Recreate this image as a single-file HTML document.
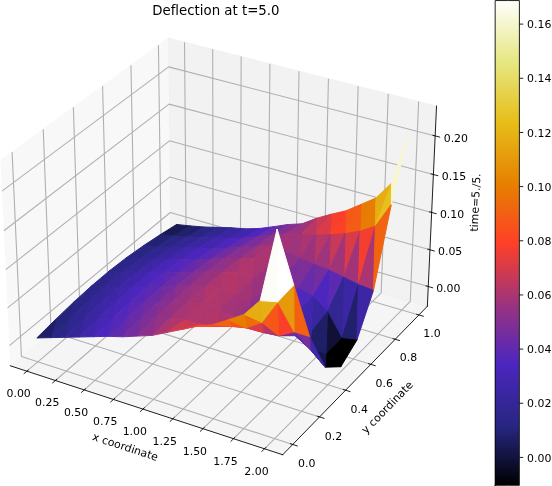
<!DOCTYPE html>
<html><head><meta charset="utf-8"><title>Deflection at t=5.0</title><style>html,body{margin:0;padding:0;background:#fff;}text{font-variant-ligatures:none;font-feature-settings:"liga" 0;}#wrap{position:relative;width:552px;height:486px;overflow:hidden;background:#fff;}</style></head><body><div id="wrap"><svg width="944.400" height="629.600" viewBox="0 0 864 576" style="position:absolute;left:-245.22px;top:-75.22px">
  <defs>
  <style type="text/css">*{stroke-linejoin: round; stroke-linecap: butt}</style>
 </defs>
 <g id="figure_1">
  <g id="patch_1">
   <path d="M 0 576 L 864 576 L 864 0 L 0 0 z
" style="fill: #ffffff"/>
  </g>
  <g id="patch_2">
   <path d="M 200.16 512.64 L 643.68 512.64 L 643.68 69.12 L 200.16 69.12 z
" style="fill: #ffffff"/>
  </g>
  <g id="pane3d_1">
   <g id="patch_3">
    <path d="M 233.64 403.28 L 380.11 280.51 L 378.07 103.45 L 224.60 215.45 " style="fill: #f2f2f2; opacity: 0.5; stroke: #f2f2f2; stroke-linejoin: miter"/>
   </g>
  </g>
  <g id="pane3d_2">
   <g id="patch_4">
    <path d="M 380.11 280.51 L 615.13 348.82 L 623.52 165.67 L 378.07 103.45 " style="fill: #e6e6e6; opacity: 0.5; stroke: #e6e6e6; stroke-linejoin: miter"/>
   </g>
  </g>
  <g id="pane3d_3">
   <g id="patch_5">
    <path d="M 233.64 403.28 L 482.78 484.65 L 615.13 348.82 L 380.11 280.51 " style="fill: #ececec; opacity: 0.5; stroke: #ececec; stroke-linejoin: miter"/>
   </g>
  </g>
  <g id="grid3d_1">
   <g id="Line3DCollection_1">
    <path d="M 248.73 408.21 L 394.40 284.66 L 392.97 107.23 " style="fill: none; stroke: #b0b0b0"/>
    <path d="M 274.83 416.73 L 419.11 291.84 L 418.73 113.76 " style="fill: none; stroke: #b0b0b0"/>
    <path d="M 301.23 425.35 L 444.07 299.10 L 444.77 120.36 " style="fill: none; stroke: #b0b0b0"/>
    <path d="M 327.92 434.07 L 469.29 306.43 L 471.09 127.03 " style="fill: none; stroke: #b0b0b0"/>
    <path d="M 354.93 442.89 L 494.78 313.84 L 497.70 133.77 " style="fill: none; stroke: #b0b0b0"/>
    <path d="M 382.24 451.81 L 520.54 321.33 L 524.61 140.59 " style="fill: none; stroke: #b0b0b0"/>
    <path d="M 409.88 460.84 L 546.58 328.89 L 551.82 147.49 " style="fill: none; stroke: #b0b0b0"/>
    <path d="M 437.84 469.97 L 572.89 336.54 L 579.33 154.46 " style="fill: none; stroke: #b0b0b0"/>
    <path d="M 466.13 479.21 L 599.49 344.27 L 607.15 161.52 " style="fill: none; stroke: #b0b0b0"/>
   </g>
  </g>
  <g id="grid3d_2">
   <g id="Line3DCollection_2">
    <path d="M 235.21 207.70 L 243.74 394.82 L 491.94 475.25 " style="fill: none; stroke: #b0b0b0"/>
    <path d="M 263.69 186.92 L 270.84 372.09 L 516.51 450.03 " style="fill: none; stroke: #b0b0b0"/>
    <path d="M 291.28 166.79 L 297.14 350.05 L 540.30 425.61 " style="fill: none; stroke: #b0b0b0"/>
    <path d="M 318.01 147.28 L 322.66 328.66 L 563.36 401.95 " style="fill: none; stroke: #b0b0b0"/>
    <path d="M 343.94 128.36 L 347.44 307.89 L 585.71 379.01 " style="fill: none; stroke: #b0b0b0"/>
    <path d="M 369.09 110.01 L 371.50 287.72 L 607.39 356.77 " style="fill: none; stroke: #b0b0b0"/>
   </g>
  </g>
  <g id="grid3d_3">
   <g id="Line3DCollection_3">
    <path d="M 615.96 330.74 L 379.91 262.99 L 232.75 384.76 " style="fill: none; stroke: #b0b0b0"/>
    <path d="M 617.50 297.14 L 379.53 230.47 L 231.09 350.34 " style="fill: none; stroke: #b0b0b0"/>
    <path d="M 619.06 262.98 L 379.15 197.44 L 229.41 315.33 " style="fill: none; stroke: #b0b0b0"/>
    <path d="M 620.65 228.26 L 378.77 163.88 L 227.69 279.72 " style="fill: none; stroke: #b0b0b0"/>
    <path d="M 622.27 192.96 L 378.38 129.79 L 225.95 243.48 " style="fill: none; stroke: #b0b0b0"/>
   </g>
  </g>
  <g id="axis3d_1">
   <g id="line2d_1">
    <path d="M 233.64 403.28 L 482.78 484.65 " style="fill: none; stroke: #000000; stroke-width: 0.8; stroke-linecap: square"/>
   </g>
   <g id="xtick_1">
    <g id="line2d_2">
     <path d="M 250.00 407.13 L 246.19 410.36 " style="fill: none; stroke: #000000; stroke-width: 0.8; stroke-linecap: square"/>
    </g>
    <g id="text_1">
     <text style="font-size: 10px; font-family: 'DejaVu Sans', sans-serif; text-anchor: middle" x="241.21" y="431.49" transform="rotate(-0 241.21 431.49)">0.00</text>
    </g>
   </g>
   <g id="xtick_2">
    <g id="line2d_3">
     <path d="M 276.09 415.64 L 272.31 418.91 " style="fill: none; stroke: #000000; stroke-width: 0.8; stroke-linecap: square"/>
    </g>
    <g id="text_2">
     <text style="font-size: 10px; font-family: 'DejaVu Sans', sans-serif; text-anchor: middle" x="267.33" y="440.12" transform="rotate(-0 267.33 440.12)">0.25</text>
    </g>
   </g>
   <g id="xtick_3">
    <g id="line2d_4">
     <path d="M 302.47 424.25 L 298.73 427.56 " style="fill: none; stroke: #000000; stroke-width: 0.8; stroke-linecap: square"/>
    </g>
    <g id="text_3">
     <text style="font-size: 10px; font-family: 'DejaVu Sans', sans-serif; text-anchor: middle" x="293.74" y="448.85" transform="rotate(-0 293.74 448.85)">0.50</text>
    </g>
   </g>
   <g id="xtick_4">
    <g id="line2d_5">
     <path d="M 329.16 432.96 L 325.45 436.30 " style="fill: none; stroke: #000000; stroke-width: 0.8; stroke-linecap: square"/>
    </g>
    <g id="text_4">
     <text style="font-size: 10px; font-family: 'DejaVu Sans', sans-serif; text-anchor: middle" x="320.46" y="457.68" transform="rotate(-0 320.46 457.68)">0.75</text>
    </g>
   </g>
   <g id="xtick_5">
    <g id="line2d_6">
     <path d="M 356.15 441.76 L 352.48 445.15 " style="fill: none; stroke: #000000; stroke-width: 0.8; stroke-linecap: square"/>
    </g>
    <g id="text_5">
     <text style="font-size: 10px; font-family: 'DejaVu Sans', sans-serif; text-anchor: middle" x="347.48" y="466.62" transform="rotate(-0 347.48 466.62)">1.00</text>
    </g>
   </g>
   <g id="xtick_6">
    <g id="line2d_7">
     <path d="M 383.45 450.67 L 379.83 454.09 " style="fill: none; stroke: #000000; stroke-width: 0.8; stroke-linecap: square"/>
    </g>
    <g id="text_6">
     <text style="font-size: 10px; font-family: 'DejaVu Sans', sans-serif; text-anchor: middle" x="374.82" y="475.65" transform="rotate(-0 374.82 475.65)">1.25</text>
    </g>
   </g>
   <g id="xtick_7">
    <g id="line2d_8">
     <path d="M 411.07 459.68 L 407.49 463.15 " style="fill: none; stroke: #000000; stroke-width: 0.8; stroke-linecap: square"/>
    </g>
    <g id="text_7">
     <text style="font-size: 10px; font-family: 'DejaVu Sans', sans-serif; text-anchor: middle" x="402.47" y="484.79" transform="rotate(-0 402.47 484.79)">1.50</text>
    </g>
   </g>
   <g id="xtick_8">
    <g id="line2d_9">
     <path d="M 439.02 468.80 L 435.47 472.30 " style="fill: none; stroke: #000000; stroke-width: 0.8; stroke-linecap: square"/>
    </g>
    <g id="text_8">
     <text style="font-size: 10px; font-family: 'DejaVu Sans', sans-serif; text-anchor: middle" x="430.45" y="494.04" transform="rotate(-0 430.45 494.04)">1.75</text>
    </g>
   </g>
   <g id="xtick_9">
    <g id="line2d_10">
     <path d="M 467.29 478.03 L 463.79 481.57 " style="fill: none; stroke: #000000; stroke-width: 0.8; stroke-linecap: square"/>
    </g>
    <g id="text_9">
     <text style="font-size: 10px; font-family: 'DejaVu Sans', sans-serif; text-anchor: middle" x="458.76" y="503.40" transform="rotate(-0 458.76 503.40)">2.00</text>
    </g>
   </g>
   <g id="text_10">
    <text style="font-size: 10px; font-family: 'DejaVu Sans', sans-serif; text-anchor: middle" x="337.83" y="480.67" transform="rotate(-341.91 337.83 480.67)">x coordinate</text>
   </g>
  </g>
  <g id="axis3d_2">
   <g id="line2d_11">
    <path d="M 615.13 348.82 L 482.78 484.65 " style="fill: none; stroke: #000000; stroke-width: 0.8; stroke-linecap: square"/>
   </g>
   <g id="xtick_10">
    <g id="line2d_12">
     <path d="M 489.85 474.57 L 496.13 476.60 " style="fill: none; stroke: #000000; stroke-width: 0.8; stroke-linecap: square"/>
    </g>
    <g id="text_11">
     <text style="font-size: 10px; font-family: 'DejaVu Sans', sans-serif; text-anchor: middle" x="504.82" y="496.27" transform="rotate(-0 504.82 496.27)">0.0</text>
    </g>
   </g>
   <g id="xtick_11">
    <g id="line2d_13">
     <path d="M 514.44 449.38 L 520.65 451.35 " style="fill: none; stroke: #000000; stroke-width: 0.8; stroke-linecap: square"/>
    </g>
    <g id="text_12">
     <text style="font-size: 10px; font-family: 'DejaVu Sans', sans-serif; text-anchor: middle" x="529.19" y="470.83" transform="rotate(-0 529.19 470.83)">0.2</text>
    </g>
   </g>
   <g id="xtick_12">
    <g id="line2d_14">
     <path d="M 538.26 424.98 L 544.40 426.89 " style="fill: none; stroke: #000000; stroke-width: 0.8; stroke-linecap: square"/>
    </g>
    <g id="text_13">
     <text style="font-size: 10px; font-family: 'DejaVu Sans', sans-serif; text-anchor: middle" x="552.79" y="446.19" transform="rotate(-0 552.79 446.19)">0.4</text>
    </g>
   </g>
   <g id="xtick_13">
    <g id="line2d_15">
     <path d="M 561.34 401.34 L 567.41 403.19 " style="fill: none; stroke: #000000; stroke-width: 0.8; stroke-linecap: square"/>
    </g>
    <g id="text_14">
     <text style="font-size: 10px; font-family: 'DejaVu Sans', sans-serif; text-anchor: middle" x="575.66" y="422.32" transform="rotate(-0 575.66 422.32)">0.6</text>
    </g>
   </g>
   <g id="xtick_14">
    <g id="line2d_16">
     <path d="M 583.71 378.42 L 589.72 380.21 " style="fill: none; stroke: #000000; stroke-width: 0.8; stroke-linecap: square"/>
    </g>
    <g id="text_15">
     <text style="font-size: 10px; font-family: 'DejaVu Sans', sans-serif; text-anchor: middle" x="597.83" y="399.18" transform="rotate(-0 597.83 399.18)">0.8</text>
    </g>
   </g>
   <g id="xtick_15">
    <g id="line2d_17">
     <path d="M 605.41 356.19 L 611.36 357.93 " style="fill: none; stroke: #000000; stroke-width: 0.8; stroke-linecap: square"/>
    </g>
    <g id="text_16">
     <text style="font-size: 10px; font-family: 'DejaVu Sans', sans-serif; text-anchor: middle" x="619.34" y="376.73" transform="rotate(-0 619.34 376.73)">1.0</text>
    </g>
   </g>
   <g id="text_17">
    <text style="font-size: 10px; font-family: 'DejaVu Sans', sans-serif; text-anchor: middle" x="580.85" y="443.61" transform="rotate(-45.74 580.85 443.61)">y coordinate</text>
   </g>
  </g>
  <g id="axis3d_3">
   <g id="line2d_18">
    <path d="M 615.13 348.82 L 623.52 165.67 " style="fill: none; stroke: #000000; stroke-width: 0.8; stroke-linecap: square"/>
   </g>
   <g id="xtick_16">
    <g id="line2d_19">
     <path d="M 613.98 330.17 L 619.93 331.88 " style="fill: none; stroke: #000000; stroke-width: 0.8; stroke-linecap: square"/>
    </g>
    <g id="text_18">
     <text style="font-size: 10px; font-family: 'DejaVu Sans', sans-serif; text-anchor: middle" x="634.31" y="335.75" transform="rotate(-0 634.31 335.75)">0.00</text>
    </g>
   </g>
   <g id="xtick_17">
    <g id="line2d_20">
     <path d="M 615.50 296.58 L 621.50 298.26 " style="fill: none; stroke: #000000; stroke-width: 0.8; stroke-linecap: square"/>
    </g>
    <g id="text_19">
     <text style="font-size: 10px; font-family: 'DejaVu Sans', sans-serif; text-anchor: middle" x="636.00" y="302.19" transform="rotate(-0 636.00 302.19)">0.05</text>
    </g>
   </g>
   <g id="xtick_18">
    <g id="line2d_21">
     <path d="M 617.05 262.43 L 623.10 264.09 " style="fill: none; stroke: #000000; stroke-width: 0.8; stroke-linecap: square"/>
    </g>
    <g id="text_20">
     <text style="font-size: 10px; font-family: 'DejaVu Sans', sans-serif; text-anchor: middle" x="637.71" y="268.08" transform="rotate(-0 637.71 268.08)">0.10</text>
    </g>
   </g>
   <g id="xtick_19">
    <g id="line2d_22">
     <path d="M 618.62 227.72 L 624.72 229.35 " style="fill: none; stroke: #000000; stroke-width: 0.8; stroke-linecap: square"/>
    </g>
    <g id="text_21">
     <text style="font-size: 10px; font-family: 'DejaVu Sans', sans-serif; text-anchor: middle" x="639.45" y="233.40" transform="rotate(-0 639.45 233.40)">0.15</text>
    </g>
   </g>
   <g id="xtick_20">
    <g id="line2d_23">
     <path d="M 620.22 192.43 L 626.38 194.02 " style="fill: none; stroke: #000000; stroke-width: 0.8; stroke-linecap: square"/>
    </g>
    <g id="text_22">
     <text style="font-size: 10px; font-family: 'DejaVu Sans', sans-serif; text-anchor: middle" x="641.22" y="198.14" transform="rotate(-0 641.22 198.14)">0.20</text>
    </g>
   </g>
   <g id="text_23">
    <text style="font-size: 10px; font-family: 'DejaVu Sans', sans-serif; text-anchor: middle" x="662.47" y="253.95" transform="rotate(-87.37 662.47 253.95)">time=5./5.</text>
   </g>
  </g>
  <g id="axes_1">
   <g id="Poly3DCollection_1">
    <path d="M 383.15 284.48 L 398.06 275.29 L 385.67 273.98 z
" clip-path="url(#p29999b01a1)" style="fill: #191954; stroke: #191954; stroke-width: 0.9"/>
    <path d="M 370.68 283.37 L 383.15 284.48 L 385.67 273.98 z
" clip-path="url(#p29999b01a1)" style="fill: #191954; stroke: #191954; stroke-width: 0.9"/>
    <path d="M 395.70 285.31 L 410.54 276.28 L 398.06 275.29 z
" clip-path="url(#p29999b01a1)" style="fill: #1f1f68; stroke: #1f1f68; stroke-width: 0.9"/>
    <path d="M 383.15 284.48 L 395.70 285.31 L 398.06 275.29 z
" clip-path="url(#p29999b01a1)" style="fill: #20206c; stroke: #20206c; stroke-width: 0.9"/>
    <path d="M 408.33 285.56 L 423.10 276.63 L 410.54 276.28 z
" clip-path="url(#p29999b01a1)" style="fill: #282682; stroke: #282682; stroke-width: 0.9"/>
    <path d="M 395.70 285.31 L 408.33 285.56 L 410.54 276.28 z
" clip-path="url(#p29999b01a1)" style="fill: #282682; stroke: #282682; stroke-width: 0.9"/>
    <path d="M 367.94 294.27 L 383.15 284.48 L 370.68 283.37 z
" clip-path="url(#p29999b01a1)" style="fill: #222270; stroke: #222270; stroke-width: 0.9"/>
    <path d="M 421.06 285.82 L 435.74 276.97 L 423.10 276.63 z
" clip-path="url(#p29999b01a1)" style="fill: #302690; stroke: #302690; stroke-width: 0.9"/>
    <path d="M 355.40 293.37 L 367.94 294.27 L 370.68 283.37 z
" clip-path="url(#p29999b01a1)" style="fill: #222270; stroke: #222270; stroke-width: 0.9"/>
    <path d="M 408.33 285.56 L 421.06 285.82 L 423.10 276.63 z
" clip-path="url(#p29999b01a1)" style="fill: #312692; stroke: #312692; stroke-width: 0.9"/>
    <path d="M 380.57 294.93 L 395.70 285.31 L 383.15 284.48 z
" clip-path="url(#p29999b01a1)" style="fill: #292684; stroke: #292684; stroke-width: 0.9"/>
    <path d="M 433.86 286.66 L 448.47 277.98 L 435.74 276.97 z
" clip-path="url(#p29999b01a1)" style="fill: #38269e; stroke: #38269e; stroke-width: 0.9"/>
    <path d="M 367.94 294.27 L 380.57 294.93 L 383.15 284.48 z
" clip-path="url(#p29999b01a1)" style="fill: #292684; stroke: #292684; stroke-width: 0.9"/>
    <path d="M 421.06 285.82 L 433.86 286.66 L 435.74 276.97 z
" clip-path="url(#p29999b01a1)" style="fill: #3a26a0; stroke: #3a26a0; stroke-width: 0.9"/>
    <path d="M 393.27 295.10 L 408.33 285.56 L 395.70 285.31 z
" clip-path="url(#p29999b01a1)" style="fill: #312692; stroke: #312692; stroke-width: 0.9"/>
    <path d="M 446.76 286.33 L 461.29 277.67 L 448.47 277.98 z
" clip-path="url(#p29999b01a1)" style="fill: #4126ac; stroke: #4126ac; stroke-width: 0.9"/>
    <path d="M 380.57 294.93 L 393.27 295.10 L 395.70 285.31 z
" clip-path="url(#p29999b01a1)" style="fill: #312692; stroke: #312692; stroke-width: 0.9"/>
    <path d="M 433.86 286.66 L 446.76 286.33 L 448.47 277.98 z
" clip-path="url(#p29999b01a1)" style="fill: #4126ac; stroke: #4126ac; stroke-width: 0.9"/>
    <path d="M 352.45 305.05 L 367.94 294.27 L 355.40 293.37 z
" clip-path="url(#p29999b01a1)" style="fill: #282682; stroke: #282682; stroke-width: 0.9"/>
    <path d="M 406.07 295.27 L 421.06 285.82 L 408.33 285.56 z
" clip-path="url(#p29999b01a1)" style="fill: #3a26a0; stroke: #3a26a0; stroke-width: 0.9"/>
    <path d="M 459.77 284.84 L 474.22 276.03 L 461.29 277.67 z
" clip-path="url(#p29999b01a1)" style="fill: #5027bd; stroke: #5027bd; stroke-width: 0.9"/>
    <path d="M 339.84 304.35 L 352.45 305.05 L 355.40 293.37 z
" clip-path="url(#p29999b01a1)" style="fill: #282682; stroke: #282682; stroke-width: 0.9"/>
    <path d="M 393.27 295.10 L 406.07 295.27 L 408.33 285.56 z
" clip-path="url(#p29999b01a1)" style="fill: #3a26a0; stroke: #3a26a0; stroke-width: 0.9"/>
    <path d="M 446.76 286.33 L 459.77 284.84 L 461.29 277.67 z
" clip-path="url(#p29999b01a1)" style="fill: #4d26bf; stroke: #4d26bf; stroke-width: 0.9"/>
    <path d="M 365.14 305.55 L 380.57 294.93 L 367.94 294.27 z
" clip-path="url(#p29999b01a1)" style="fill: #302690; stroke: #302690; stroke-width: 0.9"/>
    <path d="M 418.96 295.94 L 433.86 286.66 L 421.06 285.82 z
" clip-path="url(#p29999b01a1)" style="fill: #4226ae; stroke: #4226ae; stroke-width: 0.9"/>
    <path d="M 472.87 283.94 L 487.26 274.05 L 474.22 276.03 z
" clip-path="url(#p29999b01a1)" style="fill: #6a2ba7; stroke: #6a2ba7; stroke-width: 0.9"/>
    <path d="M 352.45 305.05 L 365.14 305.55 L 367.94 294.27 z
" clip-path="url(#p29999b01a1)" style="fill: #2f268e; stroke: #2f268e; stroke-width: 0.9"/>
    <path d="M 406.07 295.27 L 418.96 295.94 L 421.06 285.82 z
" clip-path="url(#p29999b01a1)" style="fill: #4226ae; stroke: #4226ae; stroke-width: 0.9"/>
    <path d="M 377.91 305.63 L 393.27 295.10 L 380.57 294.93 z
" clip-path="url(#p29999b01a1)" style="fill: #38269e; stroke: #38269e; stroke-width: 0.9"/>
    <path d="M 459.77 284.84 L 472.87 283.94 L 474.22 276.03 z
" clip-path="url(#p29999b01a1)" style="fill: #682ba9; stroke: #682ba9; stroke-width: 0.9"/>
    <path d="M 431.93 295.61 L 446.76 286.33 L 433.86 286.66 z
" clip-path="url(#p29999b01a1)" style="fill: #4c26be; stroke: #4c26be; stroke-width: 0.9"/>
    <path d="M 486.08 282.25 L 500.38 273.39 L 487.26 274.05 z
" clip-path="url(#p29999b01a1)" style="fill: #843091; stroke: #843091; stroke-width: 0.9"/>
    <path d="M 365.14 305.55 L 377.91 305.63 L 380.57 294.93 z
" clip-path="url(#p29999b01a1)" style="fill: #37269c; stroke: #37269c; stroke-width: 0.9"/>
    <path d="M 418.96 295.94 L 431.93 295.61 L 433.86 286.66 z
" clip-path="url(#p29999b01a1)" style="fill: #4c26be; stroke: #4c26be; stroke-width: 0.9"/>
    <path d="M 336.66 317.09 L 352.45 305.05 L 339.84 304.35 z
" clip-path="url(#p29999b01a1)" style="fill: #2c268a; stroke: #2c268a; stroke-width: 0.9"/>
    <path d="M 390.78 305.71 L 406.07 295.27 L 393.27 295.10 z
" clip-path="url(#p29999b01a1)" style="fill: #4226ae; stroke: #4226ae; stroke-width: 0.9"/>
    <path d="M 472.87 283.94 L 486.08 282.25 L 487.26 274.05 z
" clip-path="url(#p29999b01a1)" style="fill: #822f93; stroke: #822f93; stroke-width: 0.9"/>
    <path d="M 445.01 294.26 L 459.77 284.84 L 446.76 286.33 z
" clip-path="url(#p29999b01a1)" style="fill: #632aad; stroke: #632aad; stroke-width: 0.9"/>
    <path d="M 323.99 316.59 L 336.66 317.09 L 339.84 304.35 z
" clip-path="url(#p29999b01a1)" style="fill: #2b2688; stroke: #2b2688; stroke-width: 0.9"/>
    <path d="M 377.91 305.63 L 390.78 305.71 L 393.27 295.10 z
" clip-path="url(#p29999b01a1)" style="fill: #4126ac; stroke: #4126ac; stroke-width: 0.9"/>
    <path d="M 499.36 283.30 L 513.69 268.34 L 500.38 273.39 z
" clip-path="url(#p29999b01a1)" style="fill: #a13479; stroke: #a13479; stroke-width: 0.9"/>
    <path d="M 349.42 317.42 L 365.14 305.55 L 352.45 305.05 z
" clip-path="url(#p29999b01a1)" style="fill: #352698; stroke: #352698; stroke-width: 0.9"/>
    <path d="M 431.93 295.61 L 445.01 294.26 L 446.76 286.33 z
" clip-path="url(#p29999b01a1)" style="fill: #602aaf; stroke: #602aaf; stroke-width: 0.9"/>
    <path d="M 403.74 306.21 L 418.96 295.94 L 406.07 295.27 z
" clip-path="url(#p29999b01a1)" style="fill: #4a26bc; stroke: #4a26bc; stroke-width: 0.9"/>
    <path d="M 486.08 282.25 L 499.36 283.30 L 500.38 273.39 z
" clip-path="url(#p29999b01a1)" style="fill: #973381; stroke: #973381; stroke-width: 0.9"/>
    <path d="M 458.19 294.32 L 472.87 283.94 L 459.77 284.84 z
" clip-path="url(#p29999b01a1)" style="fill: #7b2e99; stroke: #7b2e99; stroke-width: 0.9"/>
    <path d="M 336.66 317.09 L 349.42 317.42 L 352.45 305.05 z
" clip-path="url(#p29999b01a1)" style="fill: #342696; stroke: #342696; stroke-width: 0.9"/>
    <path d="M 390.78 305.71 L 403.74 306.21 L 406.07 295.27 z
" clip-path="url(#p29999b01a1)" style="fill: #4a26bc; stroke: #4a26bc; stroke-width: 0.9"/>
    <path d="M 362.26 317.42 L 377.91 305.63 L 365.14 305.55 z
" clip-path="url(#p29999b01a1)" style="fill: #3e26a8; stroke: #3e26a8; stroke-width: 0.9"/>
    <path d="M 512.73 283.68 L 527.09 264.60 L 513.69 268.34 z
" clip-path="url(#p29999b01a1)" style="fill: #cd3a52; stroke: #cd3a52; stroke-width: 0.9"/>
    <path d="M 445.01 294.26 L 458.19 294.32 L 459.77 284.84 z
" clip-path="url(#p29999b01a1)" style="fill: #782e9b; stroke: #782e9b; stroke-width: 0.9"/>
    <path d="M 416.80 305.87 L 431.93 295.61 L 418.96 295.94 z
" clip-path="url(#p29999b01a1)" style="fill: #5c29b3; stroke: #5c29b3; stroke-width: 0.9"/>
    <path d="M 499.36 283.30 L 512.73 283.68 L 513.69 268.34 z
" clip-path="url(#p29999b01a1)" style="fill: #b73765; stroke: #b73765; stroke-width: 0.9"/>
    <path d="M 349.42 317.42 L 362.26 317.42 L 365.14 305.55 z
" clip-path="url(#p29999b01a1)" style="fill: #3c26a4; stroke: #3c26a4; stroke-width: 0.9"/>
    <path d="M 471.47 292.66 L 486.08 282.25 L 472.87 283.94 z
" clip-path="url(#p29999b01a1)" style="fill: #953283; stroke: #953283; stroke-width: 0.9"/>
    <path d="M 320.60 330.48 L 336.66 317.09 L 323.99 316.59 z
" clip-path="url(#p29999b01a1)" style="fill: #2f268e; stroke: #2f268e; stroke-width: 0.9"/>
    <path d="M 403.74 306.21 L 416.80 305.87 L 418.96 295.94 z
" clip-path="url(#p29999b01a1)" style="fill: #5928b5; stroke: #5928b5; stroke-width: 0.9"/>
    <path d="M 375.19 317.41 L 390.78 305.71 L 377.91 305.63 z
" clip-path="url(#p29999b01a1)" style="fill: #4826b8; stroke: #4826b8; stroke-width: 0.9"/>
    <path d="M 458.19 294.32 L 471.47 292.66 L 472.87 283.94 z
" clip-path="url(#p29999b01a1)" style="fill: #903287; stroke: #903287; stroke-width: 0.9"/>
    <path d="M 307.87 330.19 L 320.60 330.48 L 323.99 316.59 z
" clip-path="url(#p29999b01a1)" style="fill: #2b2688; stroke: #2b2688; stroke-width: 0.9"/>
    <path d="M 526.22 283.39 L 540.60 261.52 L 527.09 264.60 z
" clip-path="url(#p29999b01a1)" style="fill: #f73f2d; stroke: #f73f2d; stroke-width: 0.9"/>
    <path d="M 429.95 304.68 L 445.01 294.26 L 431.93 295.61 z
" clip-path="url(#p29999b01a1)" style="fill: #732d9f; stroke: #732d9f; stroke-width: 0.9"/>
    <path d="M 484.77 298.53 L 499.36 283.30 L 486.08 282.25 z
" clip-path="url(#p29999b01a1)" style="fill: #a13479; stroke: #a13479; stroke-width: 0.9"/>
    <path d="M 362.26 317.42 L 375.19 317.41 L 377.91 305.63 z
" clip-path="url(#p29999b01a1)" style="fill: #4626b4; stroke: #4626b4; stroke-width: 0.9"/>
    <path d="M 512.73 283.68 L 526.22 283.39 L 527.09 264.60 z
" clip-path="url(#p29999b01a1)" style="fill: #da3b46; stroke: #da3b46; stroke-width: 0.9"/>
    <path d="M 333.41 330.66 L 349.42 317.42 L 336.66 317.09 z
" clip-path="url(#p29999b01a1)" style="fill: #37269c; stroke: #37269c; stroke-width: 0.9"/>
    <path d="M 416.80 305.87 L 429.95 304.68 L 431.93 295.61 z
" clip-path="url(#p29999b01a1)" style="fill: #712ca1; stroke: #712ca1; stroke-width: 0.9"/>
    <path d="M 388.23 317.75 L 403.74 306.21 L 390.78 305.71 z
" clip-path="url(#p29999b01a1)" style="fill: #5728b7; stroke: #5728b7; stroke-width: 0.9"/>
    <path d="M 471.47 292.66 L 484.77 298.53 L 486.08 282.25 z
" clip-path="url(#p29999b01a1)" style="fill: #a13479; stroke: #a13479; stroke-width: 0.9"/>
    <path d="M 320.60 330.48 L 333.41 330.66 L 336.66 317.09 z
" clip-path="url(#p29999b01a1)" style="fill: #352698; stroke: #352698; stroke-width: 0.9"/>
    <path d="M 443.20 305.47 L 458.19 294.32 L 445.01 294.26 z
" clip-path="url(#p29999b01a1)" style="fill: #89308d; stroke: #89308d; stroke-width: 0.9"/>
    <path d="M 498.11 305.12 L 512.73 283.68 L 499.36 283.30 z
" clip-path="url(#p29999b01a1)" style="fill: #aa3570; stroke: #aa3570; stroke-width: 0.9"/>
    <path d="M 539.83 282.40 L 554.30 255.66 L 540.60 261.52 z
" clip-path="url(#p29999b01a1)" style="fill: #f55917; stroke: #f55917; stroke-width: 0.9"/>
    <path d="M 375.19 317.41 L 388.23 317.75 L 390.78 305.71 z
" clip-path="url(#p29999b01a1)" style="fill: #5227bb; stroke: #5227bb; stroke-width: 0.9"/>
    <path d="M 526.22 283.39 L 539.83 282.40 L 540.60 261.52 z
" clip-path="url(#p29999b01a1)" style="fill: #fd4028; stroke: #fd4028; stroke-width: 0.9"/>
    <path d="M 346.31 330.58 L 362.26 317.42 L 349.42 317.42 z
" clip-path="url(#p29999b01a1)" style="fill: #4126ac; stroke: #4126ac; stroke-width: 0.9"/>
    <path d="M 484.77 298.53 L 498.11 305.12 L 499.36 283.30 z
" clip-path="url(#p29999b01a1)" style="fill: #9d347c; stroke: #9d347c; stroke-width: 0.9"/>
    <path d="M 429.95 304.68 L 443.20 305.47 L 445.01 294.26 z
" clip-path="url(#p29999b01a1)" style="fill: #87308f; stroke: #87308f; stroke-width: 0.9"/>
    <path d="M 401.36 317.41 L 416.80 305.87 L 403.74 306.21 z
" clip-path="url(#p29999b01a1)" style="fill: #6a2ba7; stroke: #6a2ba7; stroke-width: 0.9"/>
    <path d="M 511.53 310.37 L 526.22 283.39 L 512.73 283.68 z
" clip-path="url(#p29999b01a1)" style="fill: #b73765; stroke: #b73765; stroke-width: 0.9"/>
    <path d="M 333.41 330.66 L 346.31 330.58 L 349.42 317.42 z
" clip-path="url(#p29999b01a1)" style="fill: #3e26a8; stroke: #3e26a8; stroke-width: 0.9"/>
    <path d="M 304.26 345.19 L 320.60 330.48 L 307.87 330.19 z
" clip-path="url(#p29999b01a1)" style="fill: #2e268c; stroke: #2e268c; stroke-width: 0.9"/>
    <path d="M 456.56 304.65 L 471.47 292.66 L 458.19 294.32 z
" clip-path="url(#p29999b01a1)" style="fill: #a43476; stroke: #a43476; stroke-width: 0.9"/>
    <path d="M 498.11 305.12 L 511.53 310.37 L 512.73 283.68 z
" clip-path="url(#p29999b01a1)" style="fill: #9a337e; stroke: #9a337e; stroke-width: 0.9"/>
    <path d="M 388.23 317.75 L 401.36 317.41 L 403.74 306.21 z
" clip-path="url(#p29999b01a1)" style="fill: #652aab; stroke: #652aab; stroke-width: 0.9"/>
    <path d="M 359.31 330.49 L 375.19 317.41 L 362.26 317.42 z
" clip-path="url(#p29999b01a1)" style="fill: #4c26be; stroke: #4c26be; stroke-width: 0.9"/>
    <path d="M 553.58 280.03 L 568.15 249.74 L 554.30 255.66 z
" clip-path="url(#p29999b01a1)" style="fill: #e77b03; stroke: #e77b03; stroke-width: 0.9"/>
    <path d="M 291.48 345.09 L 304.26 345.19 L 307.87 330.19 z
" clip-path="url(#p29999b01a1)" style="fill: #2a2686; stroke: #2a2686; stroke-width: 0.9"/>
    <path d="M 539.83 282.40 L 553.58 280.03 L 554.30 255.66 z
" clip-path="url(#p29999b01a1)" style="fill: #f45b16; stroke: #f45b16; stroke-width: 0.9"/>
    <path d="M 443.20 305.47 L 456.56 304.65 L 458.19 294.32 z
" clip-path="url(#p29999b01a1)" style="fill: #9a337e; stroke: #9a337e; stroke-width: 0.9"/>
    <path d="M 414.58 316.38 L 429.95 304.68 L 416.80 305.87 z
" clip-path="url(#p29999b01a1)" style="fill: #822f93; stroke: #822f93; stroke-width: 0.9"/>
    <path d="M 469.93 311.98 L 484.77 298.53 L 471.47 292.66 z
" clip-path="url(#p29999b01a1)" style="fill: #a43476; stroke: #a43476; stroke-width: 0.9"/>
    <path d="M 525.02 315.64 L 539.83 282.40 L 526.22 283.39 z
" clip-path="url(#p29999b01a1)" style="fill: #c73957; stroke: #c73957; stroke-width: 0.9"/>
    <path d="M 346.31 330.58 L 359.31 330.49 L 362.26 317.42 z
" clip-path="url(#p29999b01a1)" style="fill: #4826b8; stroke: #4826b8; stroke-width: 0.9"/>
    <path d="M 317.12 345.20 L 333.41 330.66 L 320.60 330.48 z
" clip-path="url(#p29999b01a1)" style="fill: #37269c; stroke: #37269c; stroke-width: 0.9"/>
    <path d="M 511.53 310.37 L 525.02 315.64 L 526.22 283.39 z
" clip-path="url(#p29999b01a1)" style="fill: #9d347c; stroke: #9d347c; stroke-width: 0.9"/>
    <path d="M 401.36 317.41 L 414.58 316.38 L 416.80 305.87 z
" clip-path="url(#p29999b01a1)" style="fill: #7d2e97; stroke: #7d2e97; stroke-width: 0.9"/>
    <path d="M 483.33 321.41 L 498.11 305.12 L 484.77 298.53 z
" clip-path="url(#p29999b01a1)" style="fill: #8e3189; stroke: #8e3189; stroke-width: 0.9"/>
    <path d="M 372.42 330.67 L 388.23 317.75 L 375.19 317.41 z
" clip-path="url(#p29999b01a1)" style="fill: #5e29b1; stroke: #5e29b1; stroke-width: 0.9"/>
    <path d="M 304.26 345.19 L 317.12 345.20 L 320.60 330.48 z
" clip-path="url(#p29999b01a1)" style="fill: #342696; stroke: #342696; stroke-width: 0.9"/>
    <path d="M 456.56 304.65 L 469.93 311.98 L 471.47 292.66 z
" clip-path="url(#p29999b01a1)" style="fill: #aa3570; stroke: #aa3570; stroke-width: 0.9"/>
    <path d="M 427.91 317.58 L 443.20 305.47 L 429.95 304.68 z
" clip-path="url(#p29999b01a1)" style="fill: #933285; stroke: #933285; stroke-width: 0.9"/>
    <path d="M 538.54 322.31 L 553.58 280.03 L 539.83 282.40 z
" clip-path="url(#p29999b01a1)" style="fill: #da3b46; stroke: #da3b46; stroke-width: 0.9"/>
    <path d="M 525.02 315.64 L 538.54 322.31 L 539.83 282.40 z
" clip-path="url(#p29999b01a1)" style="fill: #a13479; stroke: #a13479; stroke-width: 0.9"/>
    <path d="M 553.58 280.03 L 567.53 275.56 L 568.15 249.74 z
" clip-path="url(#p29999b01a1)" style="fill: #e77d02; stroke: #e77d02; stroke-width: 0.9"/>
    <path d="M 496.75 332.22 L 511.53 310.37 L 498.11 305.12 z
" clip-path="url(#p29999b01a1)" style="fill: #7d2e97; stroke: #7d2e97; stroke-width: 0.9"/>
    <path d="M 359.31 330.49 L 372.42 330.67 L 375.19 317.41 z
" clip-path="url(#p29999b01a1)" style="fill: #5728b7; stroke: #5728b7; stroke-width: 0.9"/>
    <path d="M 567.53 275.56 L 582.42 236.11 L 568.15 249.74 z
" clip-path="url(#p29999b01a1)" style="fill: #e6ad12; stroke: #e6ad12; stroke-width: 0.9"/>
    <path d="M 330.08 345.05 L 346.31 330.58 L 333.41 330.66 z
" clip-path="url(#p29999b01a1)" style="fill: #4126ac; stroke: #4126ac; stroke-width: 0.9"/>
    <path d="M 469.93 311.98 L 483.33 321.41 L 484.77 298.53 z
" clip-path="url(#p29999b01a1)" style="fill: #933285; stroke: #933285; stroke-width: 0.9"/>
    <path d="M 414.58 316.38 L 427.91 317.58 L 429.95 304.68 z
" clip-path="url(#p29999b01a1)" style="fill: #903287; stroke: #903287; stroke-width: 0.9"/>
    <path d="M 385.61 330.33 L 401.36 317.41 L 388.23 317.75 z
" clip-path="url(#p29999b01a1)" style="fill: #712ca1; stroke: #712ca1; stroke-width: 0.9"/>
    <path d="M 483.33 321.41 L 496.75 332.22 L 498.11 305.12 z
" clip-path="url(#p29999b01a1)" style="fill: #7b2e99; stroke: #7b2e99; stroke-width: 0.9"/>
    <path d="M 510.27 339.64 L 525.02 315.64 L 511.53 310.37 z
" clip-path="url(#p29999b01a1)" style="fill: #732d9f; stroke: #732d9f; stroke-width: 0.9"/>
    <path d="M 287.63 360.98 L 304.26 345.19 L 291.48 345.09 z
" clip-path="url(#p29999b01a1)" style="fill: #2a2686; stroke: #2a2686; stroke-width: 0.9"/>
    <path d="M 317.12 345.20 L 330.08 345.05 L 333.41 330.66 z
" clip-path="url(#p29999b01a1)" style="fill: #3d26a6; stroke: #3d26a6; stroke-width: 0.9"/>
    <path d="M 538.54 322.31 L 552.12 329.01 L 553.58 280.03 z
" clip-path="url(#p29999b01a1)" style="fill: #a13479; stroke: #a13479; stroke-width: 0.9"/>
    <path d="M 552.12 329.01 L 567.53 275.56 L 553.58 280.03 z
" clip-path="url(#p29999b01a1)" style="fill: #f43e30; stroke: #f43e30; stroke-width: 0.9"/>
    <path d="M 441.33 317.58 L 456.56 304.65 L 443.20 305.47 z
" clip-path="url(#p29999b01a1)" style="fill: #ad366e; stroke: #ad366e; stroke-width: 0.9"/>
    <path d="M 523.67 353.93 L 538.54 322.31 L 525.02 315.64 z
" clip-path="url(#p29999b01a1)" style="fill: #5c29b3; stroke: #5c29b3; stroke-width: 0.9"/>
    <path d="M 496.75 332.22 L 510.27 339.64 L 511.53 310.37 z
" clip-path="url(#p29999b01a1)" style="fill: #682ba9; stroke: #682ba9; stroke-width: 0.9"/>
    <path d="M 372.42 330.67 L 385.61 330.33 L 388.23 317.75 z
" clip-path="url(#p29999b01a1)" style="fill: #6c2ca5; stroke: #6c2ca5; stroke-width: 0.9"/>
    <path d="M 274.81 361.07 L 287.63 360.98 L 291.48 345.09 z
" clip-path="url(#p29999b01a1)" style="fill: #25257c; stroke: #25257c; stroke-width: 0.9"/>
    <path d="M 343.14 344.90 L 359.31 330.49 L 346.31 330.58 z
" clip-path="url(#p29999b01a1)" style="fill: #4c26be; stroke: #4c26be; stroke-width: 0.9"/>
    <path d="M 536.82 378.39 L 552.12 329.01 L 538.54 322.31 z
" clip-path="url(#p29999b01a1)" style="fill: #3d26a6; stroke: #3d26a6; stroke-width: 0.9"/>
    <path d="M 427.91 317.58 L 441.33 317.58 L 443.20 305.47 z
" clip-path="url(#p29999b01a1)" style="fill: #a43476; stroke: #a43476; stroke-width: 0.9"/>
    <path d="M 510.27 339.64 L 523.67 353.93 L 525.02 315.64 z
" clip-path="url(#p29999b01a1)" style="fill: #4d26bf; stroke: #4d26bf; stroke-width: 0.9"/>
    <path d="M 523.67 353.93 L 536.82 378.39 L 538.54 322.31 z
" clip-path="url(#p29999b01a1)" style="fill: #312692; stroke: #312692; stroke-width: 0.9"/>
    <path d="M 552.12 329.01 L 565.80 334.36 L 567.53 275.56 z
" clip-path="url(#p29999b01a1)" style="fill: #aa3570; stroke: #aa3570; stroke-width: 0.9"/>
    <path d="M 398.90 329.47 L 414.58 316.38 L 401.36 317.41 z
" clip-path="url(#p29999b01a1)" style="fill: #89308d; stroke: #89308d; stroke-width: 0.9"/>
    <path d="M 454.82 324.32 L 469.93 311.98 L 456.56 304.65 z
" clip-path="url(#p29999b01a1)" style="fill: #aa3570; stroke: #aa3570; stroke-width: 0.9"/>
    <path d="M 300.55 360.84 L 317.12 345.20 L 304.26 345.19 z
" clip-path="url(#p29999b01a1)" style="fill: #352698; stroke: #352698; stroke-width: 0.9"/>
    <path d="M 330.08 345.05 L 343.14 344.90 L 346.31 330.58 z
" clip-path="url(#p29999b01a1)" style="fill: #4826b8; stroke: #4826b8; stroke-width: 0.9"/>
    <path d="M 567.53 275.56 L 582.17 255.66 L 582.42 236.11 z
" clip-path="url(#p29999b01a1)" style="fill: #e6c01c; stroke: #e6c01c; stroke-width: 0.9"/>
    <path d="M 536.82 378.39 L 550.60 379.81 L 552.12 329.01 z
" clip-path="url(#p29999b01a1)" style="fill: #20206c; stroke: #20206c; stroke-width: 0.9"/>
    <path d="M 550.60 379.81 L 565.80 334.36 L 552.12 329.01 z
" clip-path="url(#p29999b01a1)" style="fill: #3c26a4; stroke: #3c26a4; stroke-width: 0.9"/>
    <path d="M 468.35 332.47 L 483.33 321.41 L 469.93 311.98 z
" clip-path="url(#p29999b01a1)" style="fill: #8e3189; stroke: #8e3189; stroke-width: 0.9"/>
    <path d="M 287.63 360.98 L 300.55 360.84 L 304.26 345.19 z
" clip-path="url(#p29999b01a1)" style="fill: #302690; stroke: #302690; stroke-width: 0.9"/>
    <path d="M 385.61 330.33 L 398.90 329.47 L 401.36 317.41 z
" clip-path="url(#p29999b01a1)" style="fill: #822f93; stroke: #822f93; stroke-width: 0.9"/>
    <path d="M 356.31 344.91 L 372.42 330.67 L 359.31 330.49 z
" clip-path="url(#p29999b01a1)" style="fill: #5e29b1; stroke: #5e29b1; stroke-width: 0.9"/>
    <path d="M 565.80 334.36 L 582.17 255.66 L 567.53 275.56 z
" clip-path="url(#p29999b01a1)" style="fill: #f16311; stroke: #f16311; stroke-width: 0.9"/>
    <path d="M 441.33 317.58 L 454.82 324.32 L 456.56 304.65 z
" clip-path="url(#p29999b01a1)" style="fill: #b1366b; stroke: #b1366b; stroke-width: 0.9"/>
    <path d="M 481.87 344.79 L 496.75 332.22 L 483.33 321.41 z
" clip-path="url(#p29999b01a1)" style="fill: #6c2ca5; stroke: #6c2ca5; stroke-width: 0.9"/>
    <path d="M 412.31 330.72 L 427.91 317.58 L 414.58 316.38 z
" clip-path="url(#p29999b01a1)" style="fill: #9a337e; stroke: #9a337e; stroke-width: 0.9"/>
    <path d="M 313.57 360.62 L 330.08 345.05 L 317.12 345.20 z
" clip-path="url(#p29999b01a1)" style="fill: #3e26a8; stroke: #3e26a8; stroke-width: 0.9"/>
    <path d="M 522.31 392.79 L 536.82 378.39 L 523.67 353.93 z
" clip-path="url(#p29999b01a1)" style="fill: #111138; stroke: #111138; stroke-width: 0.9"/>
    <path d="M 343.14 344.90 L 356.31 344.91 L 359.31 330.49 z
" clip-path="url(#p29999b01a1)" style="fill: #5728b7; stroke: #5728b7; stroke-width: 0.9"/>
    <path d="M 495.43 355.76 L 510.27 339.64 L 496.75 332.22 z
" clip-path="url(#p29999b01a1)" style="fill: #5027bd; stroke: #5027bd; stroke-width: 0.9"/>
    <path d="M 582.17 255.66 L 598.23 188.92 L 582.42 236.11 z
" clip-path="url(#p29999b01a1)" style="fill: #f6f6d3; stroke: #f6f6d3; stroke-width: 0.9"/>
    <path d="M 454.82 324.32 L 468.35 332.47 L 469.93 311.98 z
" clip-path="url(#p29999b01a1)" style="fill: #9a337e; stroke: #9a337e; stroke-width: 0.9"/>
    <path d="M 535.91 404.14 L 550.60 379.81 L 536.82 378.39 z
" clip-path="url(#p29999b01a1)" style="fill: #000000; stroke: #000000; stroke-width: 0.9"/>
    <path d="M 508.92 372.23 L 523.67 353.93 L 510.27 339.64 z
" clip-path="url(#p29999b01a1)" style="fill: #38269e; stroke: #38269e; stroke-width: 0.9"/>
    <path d="M 270.72 377.50 L 287.63 360.98 L 274.81 361.07 z
" clip-path="url(#p29999b01a1)" style="fill: #25257c; stroke: #25257c; stroke-width: 0.9"/>
    <path d="M 300.55 360.84 L 313.57 360.62 L 317.12 345.20 z
" clip-path="url(#p29999b01a1)" style="fill: #3a26a0; stroke: #3a26a0; stroke-width: 0.9"/>
    <path d="M 398.90 329.47 L 412.31 330.72 L 414.58 316.38 z
" clip-path="url(#p29999b01a1)" style="fill: #973381; stroke: #973381; stroke-width: 0.9"/>
    <path d="M 369.57 344.58 L 385.61 330.33 L 372.42 330.67 z
" clip-path="url(#p29999b01a1)" style="fill: #732d9f; stroke: #732d9f; stroke-width: 0.9"/>
    <path d="M 468.35 332.47 L 481.87 344.79 L 483.33 321.41 z
" clip-path="url(#p29999b01a1)" style="fill: #7d2e97; stroke: #7d2e97; stroke-width: 0.9"/>
    <path d="M 522.31 392.79 L 535.91 404.14 L 536.82 378.39 z
" clip-path="url(#p29999b01a1)" style="fill: #000000; stroke: #000000; stroke-width: 0.9"/>
    <path d="M 481.87 344.79 L 495.43 355.76 L 496.75 332.22 z
" clip-path="url(#p29999b01a1)" style="fill: #5928b5; stroke: #5928b5; stroke-width: 0.9"/>
    <path d="M 257.86 377.79 L 270.72 377.50 L 274.81 361.07 z
" clip-path="url(#p29999b01a1)" style="fill: #1f1f68; stroke: #1f1f68; stroke-width: 0.9"/>
    <path d="M 425.81 331.45 L 441.33 317.58 L 427.91 317.58 z
" clip-path="url(#p29999b01a1)" style="fill: #b1366b; stroke: #b1366b; stroke-width: 0.9"/>
    <path d="M 508.92 372.23 L 522.31 392.79 L 523.67 353.93 z
" clip-path="url(#p29999b01a1)" style="fill: #1f1f68; stroke: #1f1f68; stroke-width: 0.9"/>
    <path d="M 326.68 360.39 L 343.14 344.90 L 330.08 345.05 z
" clip-path="url(#p29999b01a1)" style="fill: #4926ba; stroke: #4926ba; stroke-width: 0.9"/>
    <path d="M 356.31 344.91 L 369.57 344.58 L 372.42 330.67 z
" clip-path="url(#p29999b01a1)" style="fill: #6c2ca5; stroke: #6c2ca5; stroke-width: 0.9"/>
    <path d="M 495.43 355.76 L 508.92 372.23 L 510.27 339.64 z
" clip-path="url(#p29999b01a1)" style="fill: #4026aa; stroke: #4026aa; stroke-width: 0.9"/>
    <path d="M 412.31 330.72 L 425.81 331.45 L 427.91 317.58 z
" clip-path="url(#p29999b01a1)" style="fill: #aa3570; stroke: #aa3570; stroke-width: 0.9"/>
    <path d="M 283.68 377.21 L 300.55 360.84 L 287.63 360.98 z
" clip-path="url(#p29999b01a1)" style="fill: #302690; stroke: #302690; stroke-width: 0.9"/>
    <path d="M 313.57 360.62 L 326.68 360.39 L 330.08 345.05 z
" clip-path="url(#p29999b01a1)" style="fill: #4426b2; stroke: #4426b2; stroke-width: 0.9"/>
    <path d="M 382.93 343.90 L 398.90 329.47 L 385.61 330.33 z
" clip-path="url(#p29999b01a1)" style="fill: #8b318b; stroke: #8b318b; stroke-width: 0.9"/>
    <path d="M 439.39 338.29 L 454.82 324.32 L 441.33 317.58 z
" clip-path="url(#p29999b01a1)" style="fill: #ad366e; stroke: #ad366e; stroke-width: 0.9"/>
    <path d="M 270.72 377.50 L 283.68 377.21 L 287.63 360.98 z
" clip-path="url(#p29999b01a1)" style="fill: #2a2686; stroke: #2a2686; stroke-width: 0.9"/>
    <path d="M 339.90 360.25 L 356.31 344.91 L 343.14 344.90 z
" clip-path="url(#p29999b01a1)" style="fill: #5c29b3; stroke: #5c29b3; stroke-width: 0.9"/>
    <path d="M 369.57 344.58 L 382.93 343.90 L 385.61 330.33 z
" clip-path="url(#p29999b01a1)" style="fill: #822f93; stroke: #822f93; stroke-width: 0.9"/>
    <path d="M 453.04 344.46 L 468.35 332.47 L 454.82 324.32 z
" clip-path="url(#p29999b01a1)" style="fill: #9a337e; stroke: #9a337e; stroke-width: 0.9"/>
    <path d="M 425.81 331.45 L 439.39 338.29 L 441.33 317.58 z
" clip-path="url(#p29999b01a1)" style="fill: #b43668; stroke: #b43668; stroke-width: 0.9"/>
    <path d="M 296.75 376.92 L 313.57 360.62 L 300.55 360.84 z
" clip-path="url(#p29999b01a1)" style="fill: #3b26a2; stroke: #3b26a2; stroke-width: 0.9"/>
    <path d="M 466.72 353.45 L 481.87 344.79 L 468.35 332.47 z
" clip-path="url(#p29999b01a1)" style="fill: #7d2e97; stroke: #7d2e97; stroke-width: 0.9"/>
    <path d="M 326.68 360.39 L 339.90 360.25 L 343.14 344.90 z
" clip-path="url(#p29999b01a1)" style="fill: #5227bb; stroke: #5227bb; stroke-width: 0.9"/>
    <path d="M 396.40 344.85 L 412.31 330.72 L 398.90 329.47 z
" clip-path="url(#p29999b01a1)" style="fill: #9d347c; stroke: #9d347c; stroke-width: 0.9"/>
    <path d="M 480.42 364.55 L 495.43 355.76 L 481.87 344.79 z
" clip-path="url(#p29999b01a1)" style="fill: #5928b5; stroke: #5928b5; stroke-width: 0.9"/>
    <path d="M 439.39 338.29 L 453.04 344.46 L 454.82 324.32 z
" clip-path="url(#p29999b01a1)" style="fill: #a43476; stroke: #a43476; stroke-width: 0.9"/>
    <path d="M 521.56 404.54 L 535.91 404.14 L 522.31 392.79 z
" clip-path="url(#p29999b01a1)" style="fill: #000000; stroke: #000000; stroke-width: 0.9"/>
    <path d="M 507.89 388.20 L 522.31 392.79 L 508.92 372.23 z
" clip-path="url(#p29999b01a1)" style="fill: #1e1e64; stroke: #1e1e64; stroke-width: 0.9"/>
    <path d="M 283.68 377.21 L 296.75 376.92 L 300.55 360.84 z
" clip-path="url(#p29999b01a1)" style="fill: #352698; stroke: #352698; stroke-width: 0.9"/>
    <path d="M 494.15 375.67 L 508.92 372.23 L 495.43 355.76 z
" clip-path="url(#p29999b01a1)" style="fill: #3c26a4; stroke: #3c26a4; stroke-width: 0.9"/>
    <path d="M 353.22 359.93 L 369.57 344.58 L 356.31 344.91 z
" clip-path="url(#p29999b01a1)" style="fill: #712ca1; stroke: #712ca1; stroke-width: 0.9"/>
    <path d="M 382.93 343.90 L 396.40 344.85 L 398.90 329.47 z
" clip-path="url(#p29999b01a1)" style="fill: #973381; stroke: #973381; stroke-width: 0.9"/>
    <path d="M 453.04 344.46 L 466.72 353.45 L 468.35 332.47 z
" clip-path="url(#p29999b01a1)" style="fill: #8e3189; stroke: #8e3189; stroke-width: 0.9"/>
    <path d="M 409.99 347.00 L 425.81 331.45 L 412.31 330.72 z
" clip-path="url(#p29999b01a1)" style="fill: #b1366b; stroke: #b1366b; stroke-width: 0.9"/>
    <path d="M 309.92 376.63 L 326.68 360.39 L 313.57 360.62 z
" clip-path="url(#p29999b01a1)" style="fill: #4626b4; stroke: #4626b4; stroke-width: 0.9"/>
    <path d="M 339.90 360.25 L 353.22 359.93 L 356.31 344.91 z
" clip-path="url(#p29999b01a1)" style="fill: #682ba9; stroke: #682ba9; stroke-width: 0.9"/>
    <path d="M 466.72 353.45 L 480.42 364.55 L 481.87 344.79 z
" clip-path="url(#p29999b01a1)" style="fill: #6c2ca5; stroke: #6c2ca5; stroke-width: 0.9"/>
    <path d="M 480.42 364.55 L 494.15 375.67 L 495.43 355.76 z
" clip-path="url(#p29999b01a1)" style="fill: #4c26be; stroke: #4c26be; stroke-width: 0.9"/>
    <path d="M 296.75 376.92 L 309.92 376.63 L 313.57 360.62 z
" clip-path="url(#p29999b01a1)" style="fill: #4126ac; stroke: #4126ac; stroke-width: 0.9"/>
    <path d="M 396.40 344.85 L 409.99 347.00 L 412.31 330.72 z
" clip-path="url(#p29999b01a1)" style="fill: #a73573; stroke: #a73573; stroke-width: 0.9"/>
    <path d="M 507.89 388.20 L 521.56 404.54 L 522.31 392.79 z
" clip-path="url(#p29999b01a1)" style="fill: #161648; stroke: #161648; stroke-width: 0.9"/>
    <path d="M 366.65 359.44 L 382.93 343.90 L 369.57 344.58 z
" clip-path="url(#p29999b01a1)" style="fill: #87308f; stroke: #87308f; stroke-width: 0.9"/>
    <path d="M 494.15 375.67 L 507.89 388.20 L 508.92 372.23 z
" clip-path="url(#p29999b01a1)" style="fill: #352698; stroke: #352698; stroke-width: 0.9"/>
    <path d="M 423.66 352.54 L 439.39 338.29 L 425.81 331.45 z
" clip-path="url(#p29999b01a1)" style="fill: #ad366e; stroke: #ad366e; stroke-width: 0.9"/>
    <path d="M 323.19 376.33 L 339.90 360.25 L 326.68 360.39 z
" clip-path="url(#p29999b01a1)" style="fill: #5428b9; stroke: #5428b9; stroke-width: 0.9"/>
    <path d="M 353.22 359.93 L 366.65 359.44 L 369.57 344.58 z
" clip-path="url(#p29999b01a1)" style="fill: #7d2e97; stroke: #7d2e97; stroke-width: 0.9"/>
    <path d="M 437.41 358.11 L 453.04 344.46 L 439.39 338.29 z
" clip-path="url(#p29999b01a1)" style="fill: #a13479; stroke: #a13479; stroke-width: 0.9"/>
    <path d="M 409.99 347.00 L 423.66 352.54 L 425.81 331.45 z
" clip-path="url(#p29999b01a1)" style="fill: #b1366b; stroke: #b1366b; stroke-width: 0.9"/>
    <path d="M 309.92 376.63 L 323.19 376.33 L 326.68 360.39 z
" clip-path="url(#p29999b01a1)" style="fill: #4c26be; stroke: #4c26be; stroke-width: 0.9"/>
    <path d="M 380.19 359.84 L 396.40 344.85 L 382.93 343.90 z
" clip-path="url(#p29999b01a1)" style="fill: #9a337e; stroke: #9a337e; stroke-width: 0.9"/>
    <path d="M 451.22 364.41 L 466.72 353.45 L 453.04 344.46 z
" clip-path="url(#p29999b01a1)" style="fill: #8e3189; stroke: #8e3189; stroke-width: 0.9"/>
    <path d="M 423.66 352.54 L 437.41 358.11 L 439.39 338.29 z
" clip-path="url(#p29999b01a1)" style="fill: #a43476; stroke: #a43476; stroke-width: 0.9"/>
    <path d="M 336.59 376.73 L 353.22 359.93 L 339.90 360.25 z
" clip-path="url(#p29999b01a1)" style="fill: #6a2ba7; stroke: #6a2ba7; stroke-width: 0.9"/>
    <path d="M 366.65 359.44 L 380.19 359.84 L 382.93 343.90 z
" clip-path="url(#p29999b01a1)" style="fill: #933285; stroke: #933285; stroke-width: 0.9"/>
    <path d="M 465.08 372.84 L 480.42 364.55 L 466.72 353.45 z
" clip-path="url(#p29999b01a1)" style="fill: #732d9f; stroke: #732d9f; stroke-width: 0.9"/>
    <path d="M 393.85 361.45 L 409.99 347.00 L 396.40 344.85 z
" clip-path="url(#p29999b01a1)" style="fill: #ad366e; stroke: #ad366e; stroke-width: 0.9"/>
    <path d="M 323.19 376.33 L 336.59 376.73 L 339.90 360.25 z
" clip-path="url(#p29999b01a1)" style="fill: #602aaf; stroke: #602aaf; stroke-width: 0.9"/>
    <path d="M 437.41 358.11 L 451.22 364.41 L 453.04 344.46 z
" clip-path="url(#p29999b01a1)" style="fill: #973381; stroke: #973381; stroke-width: 0.9"/>
    <path d="M 479.06 375.69 L 494.15 375.67 L 480.42 364.55 z
" clip-path="url(#p29999b01a1)" style="fill: #602aaf; stroke: #602aaf; stroke-width: 0.9"/>
    <path d="M 380.19 359.84 L 393.85 361.45 L 396.40 344.85 z
" clip-path="url(#p29999b01a1)" style="fill: #a73573; stroke: #a73573; stroke-width: 0.9"/>
    <path d="M 451.22 364.41 L 465.08 372.84 L 466.72 353.45 z
" clip-path="url(#p29999b01a1)" style="fill: #87308f; stroke: #87308f; stroke-width: 0.9"/>
    <path d="M 350.07 376.08 L 366.65 359.44 L 353.22 359.93 z
" clip-path="url(#p29999b01a1)" style="fill: #802f95; stroke: #802f95; stroke-width: 0.9"/>
    <path d="M 407.61 365.67 L 423.66 352.54 L 409.99 347.00 z
" clip-path="url(#p29999b01a1)" style="fill: #ad366e; stroke: #ad366e; stroke-width: 0.9"/>
    <path d="M 493.23 372.21 L 507.89 388.20 L 494.15 375.67 z
" clip-path="url(#p29999b01a1)" style="fill: #5428b9; stroke: #5428b9; stroke-width: 0.9"/>
    <path d="M 336.59 376.73 L 350.07 376.08 L 353.22 359.93 z
" clip-path="url(#p29999b01a1)" style="fill: #762d9d; stroke: #762d9d; stroke-width: 0.9"/>
    <path d="M 465.08 372.84 L 479.06 375.69 L 480.42 364.55 z
" clip-path="url(#p29999b01a1)" style="fill: #762d9d; stroke: #762d9d; stroke-width: 0.9"/>
    <path d="M 507.38 376.49 L 521.56 404.54 L 507.89 388.20 z
" clip-path="url(#p29999b01a1)" style="fill: #4026aa; stroke: #4026aa; stroke-width: 0.9"/>
    <path d="M 393.85 361.45 L 407.61 365.67 L 409.99 347.00 z
" clip-path="url(#p29999b01a1)" style="fill: #b1366b; stroke: #b1366b; stroke-width: 0.9"/>
    <path d="M 421.45 367.09 L 437.41 358.11 L 423.66 352.54 z
" clip-path="url(#p29999b01a1)" style="fill: #ad366e; stroke: #ad366e; stroke-width: 0.9"/>
    <path d="M 363.66 375.43 L 380.19 359.84 L 366.65 359.44 z
" clip-path="url(#p29999b01a1)" style="fill: #953283; stroke: #953283; stroke-width: 0.9"/>
    <path d="M 479.06 375.69 L 493.23 372.21 L 494.15 375.67 z
" clip-path="url(#p29999b01a1)" style="fill: #782e9b; stroke: #782e9b; stroke-width: 0.9"/>
    <path d="M 350.07 376.08 L 363.66 375.43 L 366.65 359.44 z
" clip-path="url(#p29999b01a1)" style="fill: #8b318b; stroke: #8b318b; stroke-width: 0.9"/>
    <path d="M 407.61 365.67 L 421.45 367.09 L 423.66 352.54 z
" clip-path="url(#p29999b01a1)" style="fill: #b43668; stroke: #b43668; stroke-width: 0.9"/>
    <path d="M 435.39 367.11 L 451.22 364.41 L 437.41 358.11 z
" clip-path="url(#p29999b01a1)" style="fill: #ad366e; stroke: #ad366e; stroke-width: 0.9"/>
    <path d="M 377.33 372.64 L 393.85 361.45 L 380.19 359.84 z
" clip-path="url(#p29999b01a1)" style="fill: #b43668; stroke: #b43668; stroke-width: 0.9"/>
    <path d="M 493.23 372.21 L 507.38 376.49 L 507.89 388.20 z
" clip-path="url(#p29999b01a1)" style="fill: #782e9b; stroke: #782e9b; stroke-width: 0.9"/>
    <path d="M 449.44 368.55 L 465.08 372.84 L 451.22 364.41 z
" clip-path="url(#p29999b01a1)" style="fill: #a73573; stroke: #a73573; stroke-width: 0.9"/>
    <path d="M 421.45 367.09 L 435.39 367.11 L 437.41 358.11 z
" clip-path="url(#p29999b01a1)" style="fill: #c1385d; stroke: #c1385d; stroke-width: 0.9"/>
    <path d="M 363.66 375.43 L 377.33 372.64 L 380.19 359.84 z
" clip-path="url(#p29999b01a1)" style="fill: #aa3570; stroke: #aa3570; stroke-width: 0.9"/>
    <path d="M 391.14 369.83 L 407.61 365.67 L 393.85 361.45 z
" clip-path="url(#p29999b01a1)" style="fill: #c73957; stroke: #c73957; stroke-width: 0.9"/>
    <path d="M 463.65 363.56 L 479.06 375.69 L 465.08 372.84 z
" clip-path="url(#p29999b01a1)" style="fill: #b43668; stroke: #b43668; stroke-width: 0.9"/>
    <path d="M 435.39 367.11 L 449.44 368.55 L 451.22 364.41 z
" clip-path="url(#p29999b01a1)" style="fill: #ca3954; stroke: #ca3954; stroke-width: 0.9"/>
    <path d="M 377.33 372.64 L 391.14 369.83 L 393.85 361.45 z
" clip-path="url(#p29999b01a1)" style="fill: #cd3a52; stroke: #cd3a52; stroke-width: 0.9"/>
    <path d="M 405.07 366.99 L 421.45 367.09 L 407.61 365.67 z
" clip-path="url(#p29999b01a1)" style="fill: #dd3c44; stroke: #dd3c44; stroke-width: 0.9"/>
    <path d="M 449.44 368.55 L 463.65 363.56 L 465.08 372.84 z
" clip-path="url(#p29999b01a1)" style="fill: #da3b46; stroke: #da3b46; stroke-width: 0.9"/>
    <path d="M 478.17 344.77 L 493.23 372.21 L 479.06 375.69 z
" clip-path="url(#p29999b01a1)" style="fill: #fa3f2a; stroke: #fa3f2a; stroke-width: 0.9"/>
    <path d="M 391.14 369.83 L 405.07 366.99 L 407.61 365.67 z
" clip-path="url(#p29999b01a1)" style="fill: #ed3e36; stroke: #ed3e36; stroke-width: 0.9"/>
    <path d="M 419.14 365.57 L 435.39 367.11 L 421.45 367.09 z
" clip-path="url(#p29999b01a1)" style="fill: #f73f2d; stroke: #f73f2d; stroke-width: 0.9"/>
    <path d="M 463.65 363.56 L 478.17 344.77 L 479.06 375.69 z
" clip-path="url(#p29999b01a1)" style="fill: #f65718; stroke: #f65718; stroke-width: 0.9"/>
    <path d="M 405.07 366.99 L 419.14 365.57 L 421.45 367.09 z
" clip-path="url(#p29999b01a1)" style="fill: #fb4921; stroke: #fb4921; stroke-width: 0.9"/>
    <path d="M 492.89 329.33 L 507.38 376.49 L 493.23 372.21 z
" clip-path="url(#p29999b01a1)" style="fill: #f26112; stroke: #f26112; stroke-width: 0.9"/>
    <path d="M 433.34 361.23 L 449.44 368.55 L 435.39 367.11 z
" clip-path="url(#p29999b01a1)" style="fill: #f8511c; stroke: #f8511c; stroke-width: 0.9"/>
    <path d="M 419.14 365.57 L 433.34 361.23 L 435.39 367.11 z
" clip-path="url(#p29999b01a1)" style="fill: #f16311; stroke: #f16311; stroke-width: 0.9"/>
    <path d="M 447.68 356.13 L 463.65 363.56 L 449.44 368.55 z
" clip-path="url(#p29999b01a1)" style="fill: #ed6d0b; stroke: #ed6d0b; stroke-width: 0.9"/>
    <path d="M 478.17 344.77 L 492.89 329.33 L 493.23 372.21 z
" clip-path="url(#p29999b01a1)" style="fill: #e6990a; stroke: #e6990a; stroke-width: 0.9"/>
    <path d="M 433.34 361.23 L 447.68 356.13 L 449.44 368.55 z
" clip-path="url(#p29999b01a1)" style="fill: #e67f00; stroke: #e67f00; stroke-width: 0.9"/>
    <path d="M 462.24 343.61 L 478.17 344.77 L 463.65 363.56 z
" clip-path="url(#p29999b01a1)" style="fill: #e6af13; stroke: #e6af13; stroke-width: 0.9"/>
    <path d="M 447.68 356.13 L 462.24 343.61 L 463.65 363.56 z
" clip-path="url(#p29999b01a1)" style="fill: #e6ad12; stroke: #e6ad12; stroke-width: 0.9"/>
    <path d="M 477.64 278.16 L 492.89 329.33 L 478.17 344.77 z
" clip-path="url(#p29999b01a1)" style="fill: #ffffff; stroke: #ffffff; stroke-width: 0.9"/>
    <path d="M 462.24 343.61 L 477.64 278.16 L 478.17 344.77 z
" clip-path="url(#p29999b01a1)" style="fill: #fdfdf7; stroke: #fdfdf7; stroke-width: 0.9"/>
   </g>
  </g>
  <g id="axes_2">
   <g id="patch_6">
    <path d="M 677.16 512.64 L 699.33 512.64 L 699.33 69.12 L 677.16 69.12 z
" style="fill: #ffffff"/>
   </g>
   <defs><linearGradient id="cmr" x1="0" y1="1" x2="0" y2="0"><stop offset="0" stop-color="rgb(0,0,0)"/><stop offset="0.12" stop-color="rgb(38,38,128)"/><stop offset="0.25" stop-color="rgb(76,38,191)"/><stop offset="0.37" stop-color="rgb(153,51,128)"/><stop offset="0.5" stop-color="rgb(255,64,38)"/><stop offset="0.62" stop-color="rgb(230,128,0)"/><stop offset="0.75" stop-color="rgb(230,191,26)"/><stop offset="0.87" stop-color="rgb(230,230,128)"/><stop offset="1" stop-color="rgb(255,255,255)"/></linearGradient></defs><rect x="677.00" y="68.61" width="21.95" height="443.71" fill="url(#cmr)"/>
   <g id="matplotlib.axis_1"/>
   <g id="matplotlib.axis_2">
    <g id="ytick_1">
     <g id="line2d_24">
      <defs>
       <path id="m8c31ae5ecb" d="M 0 0 L 3.5 0 " style="stroke: #000000; stroke-width: 0.8"/>
      </defs>
      <g>
       <use href="#m8c31ae5ecb" x="699.33" y="487.11" style="stroke: #000000; stroke-width: 0.8"/>
      </g>
     </g>
     <g id="text_24">
      <text style="font-size: 10px; font-family: 'DejaVu Sans', sans-serif; text-anchor: start" x="706.33" y="490.91" transform="rotate(-0 706.33 490.91)">0.00</text>
     </g>
    </g>
    <g id="ytick_2">
     <g id="line2d_25">
      <g>
       <use href="#m8c31ae5ecb" x="699.33" y="437.56" style="stroke: #000000; stroke-width: 0.8"/>
      </g>
     </g>
     <g id="text_25">
      <text style="font-size: 10px; font-family: 'DejaVu Sans', sans-serif; text-anchor: start" x="706.33" y="441.36" transform="rotate(-0 706.33 441.36)">0.02</text>
     </g>
    </g>
    <g id="ytick_3">
     <g id="line2d_26">
      <g>
       <use href="#m8c31ae5ecb" x="699.33" y="388.00" style="stroke: #000000; stroke-width: 0.8"/>
      </g>
     </g>
     <g id="text_26">
      <text style="font-size: 10px; font-family: 'DejaVu Sans', sans-serif; text-anchor: start" x="706.33" y="391.80" transform="rotate(-0 706.33 391.80)">0.04</text>
     </g>
    </g>
    <g id="ytick_4">
     <g id="line2d_27">
      <g>
       <use href="#m8c31ae5ecb" x="699.33" y="338.45" style="stroke: #000000; stroke-width: 0.8"/>
      </g>
     </g>
     <g id="text_27">
      <text style="font-size: 10px; font-family: 'DejaVu Sans', sans-serif; text-anchor: start" x="706.33" y="342.25" transform="rotate(-0 706.33 342.25)">0.06</text>
     </g>
    </g>
    <g id="ytick_5">
     <g id="line2d_28">
      <g>
       <use href="#m8c31ae5ecb" x="699.33" y="288.89" style="stroke: #000000; stroke-width: 0.8"/>
      </g>
     </g>
     <g id="text_28">
      <text style="font-size: 10px; font-family: 'DejaVu Sans', sans-serif; text-anchor: start" x="706.33" y="292.69" transform="rotate(-0 706.33 292.69)">0.08</text>
     </g>
    </g>
    <g id="ytick_6">
     <g id="line2d_29">
      <g>
       <use href="#m8c31ae5ecb" x="699.33" y="239.34" style="stroke: #000000; stroke-width: 0.8"/>
      </g>
     </g>
     <g id="text_29">
      <text style="font-size: 10px; font-family: 'DejaVu Sans', sans-serif; text-anchor: start" x="706.33" y="243.14" transform="rotate(-0 706.33 243.14)">0.10</text>
     </g>
    </g>
    <g id="ytick_7">
     <g id="line2d_30">
      <g>
       <use href="#m8c31ae5ecb" x="699.33" y="189.78" style="stroke: #000000; stroke-width: 0.8"/>
      </g>
     </g>
     <g id="text_30">
      <text style="font-size: 10px; font-family: 'DejaVu Sans', sans-serif; text-anchor: start" x="706.33" y="193.58" transform="rotate(-0 706.33 193.58)">0.12</text>
     </g>
    </g>
    <g id="ytick_8">
     <g id="line2d_31">
      <g>
       <use href="#m8c31ae5ecb" x="699.33" y="140.23" style="stroke: #000000; stroke-width: 0.8"/>
      </g>
     </g>
     <g id="text_31">
      <text style="font-size: 10px; font-family: 'DejaVu Sans', sans-serif; text-anchor: start" x="706.33" y="144.03" transform="rotate(-0 706.33 144.03)">0.14</text>
     </g>
    </g>
    <g id="ytick_9">
     <g id="line2d_32">
      <g>
       <use href="#m8c31ae5ecb" x="699.33" y="90.67" style="stroke: #000000; stroke-width: 0.8"/>
      </g>
     </g>
     <g id="text_32">
      <text style="font-size: 10px; font-family: 'DejaVu Sans', sans-serif; text-anchor: start" x="706.33" y="94.47" transform="rotate(-0 706.33 94.47)">0.16</text>
     </g>
    </g>
   </g>
   <g id="LineCollection_1"/>
   <g id="patch_7">
    <path d="M 677.16 512.64 L 688.24 512.64 L 699.33 512.64 L 699.33 69.12 L 688.24 69.12 L 677.16 69.12 L 677.16 512.64 z
" style="fill: none; stroke: #000000; stroke-width: 0.8; stroke-linejoin: miter; stroke-linecap: square"/>
   </g>
  </g>
  <g id="text_33">
   <text style="font-size: 12.2px; font-family: 'DejaVu Sans', sans-serif; text-anchor: middle" x="421.65" y="82.02" transform="rotate(-0 421.65 82.02)">Deflection at t=5.0</text>
  </g>
 </g>
 <defs>
  <clipPath id="p29999b01a1">
   <rect x="200.16" y="69.12" width="443.52" height="443.52"/>
  </clipPath>
 </defs>
</svg>
</div></body></html>
